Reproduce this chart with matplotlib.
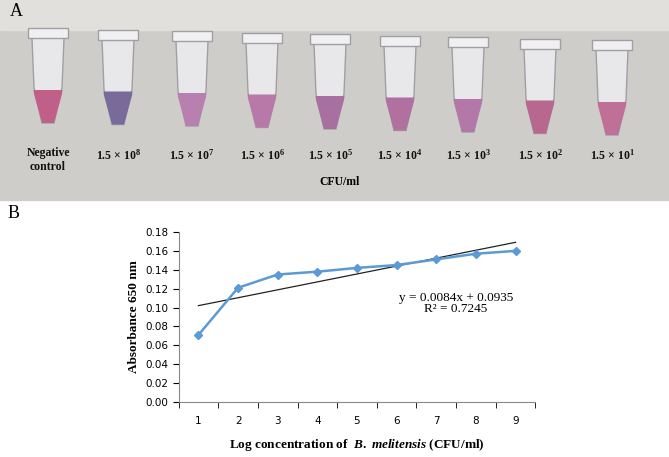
import numpy as np
import matplotlib.pyplot as plt
from matplotlib.patches import Polygon, Rectangle

labels = ["Negative\ncontrol", r"1.5 × 10$^{8}$", r"1.5 × 10$^{7}$", r"1.5 × 10$^{6}$", r"1.5 × 10$^{5}$",
          r"1.5 × 10$^{4}$", r"1.5 × 10$^{3}$", r"1.5 × 10$^{2}$", r"1.5 × 10$^{1}$"]
liquid = ["#c0608a", "#7a6a9a", "#b880b0", "#b878a8", "#a870a0", "#b070a0", "#b478a8", "#b8688e", "#c07096"]
log_conc = [1, 2, 3, 4, 5, 6, 7, 8, 9]
absorb = [0.071, 0.121, 0.135, 0.138, 0.142, 0.145, 0.151, 0.157, 0.160]

W, H = 669, 457
plt.rcParams['font.family'] = ['Liberation Serif', 'DejaVu Serif']
plt.rcParams['mathtext.fontset'] = 'custom'
plt.rcParams['mathtext.rm'] = 'Liberation Serif:bold'
plt.rcParams['mathtext.it'] = 'Liberation Serif:italic:bold'
plt.rcParams['mathtext.bf'] = 'Liberation Serif:bold'
fig = plt.figure(figsize=(W/100, H/100), dpi=100)

# Panel A (photo-like sketch)
axA = fig.add_axes([0, 0, 1, 1])
axA.set_xlim(0, W); axA.set_ylim(H, 0); axA.axis('off')
axA.add_patch(Rectangle((0, 0), W, 200, color="#cfcdca", zorder=0))
axA.add_patch(Rectangle((0, 0), W, 30, color="#e2e0dc", zorder=0))
xs = [48, 118, 192, 262, 330, 400, 468, 540, 612]
for i, (x, lab, c) in enumerate(zip(xs, labels, liquid)):
    top = 28 + i * 1.5
    body = Polygon([(x-16, top+10), (x+16, top+10), (x+14, top+60), (x+6, top+95), (x-6, top+95), (x-14, top+60)],
                   closed=True, fc="#e8e8ea", ec="#a0a0a4", lw=1, zorder=1)
    axA.add_patch(body)
    axA.add_patch(Rectangle((x-20, top), 40, 10, fc="#f0f0f2", ec="#a0a0a4", lw=1, zorder=2))
    axA.add_patch(Polygon([(x-14.5, top+62), (x+14.5, top+62), (x+14, top+66), (x+6, top+95), (x-6, top+95), (x-14, top+66)],
                          closed=True, fc=c, ec="none", zorder=2))
    axA.text(x, 155 if i else 160, lab, ha='center', va='center', fontsize=8.5, fontweight='bold', color='#111111')
axA.text(340, 182, "CFU/ml", ha='center', va='center', fontsize=8.5, fontweight='bold')
axA.text(10, 12, "A", fontsize=13, va='center')
axA.text(8, 214, "B", fontsize=13, va='center')

# Panel B
x0, x1, ytop, ybot = 192/W, 522/W, 1 - 232/H, 1 - 402/H
ax = fig.add_axes([x0 - 0.02, ybot, x1 - x0 + 0.04, ytop - ybot])
ax.plot(log_conc, absorb, color="#5b9bd5", lw=1.8, marker='D', ms=4.5, zorder=3)
slope, inter = np.polyfit(log_conc, absorb, 1)
xx = np.array([log_conc[0], log_conc[-1]])
ax.plot(xx, slope*xx + inter, color='#222222', lw=0.9, zorder=2)
ax.set_xlim(0.5, 9.5); ax.set_ylim(0, 0.18)
ax.set_yticks(np.arange(0, 0.181, 0.02))
ax.set_yticklabels([f"{v:.2f}" for v in np.arange(0, 0.181, 0.02)], fontfamily='DejaVu Sans', fontsize=7.5)
ax.set_xticks(log_conc)
ax.set_xticklabels([str(v) for v in log_conc], fontfamily='DejaVu Sans', fontsize=7.5)
ax.set_xticks(np.arange(0.5, 9.6, 1), minor=True)
ax.tick_params(axis='x', which='major', length=0, pad=10)
ax.tick_params(axis='x', which='minor', length=4)
ax.tick_params(axis='y', length=4)
for s in ['top', 'right']:
    ax.spines[s].set_visible(False)
ax.spines['left'].set_color('#888888'); ax.spines['bottom'].set_color('#888888')
ax.text(7.5, 0.107, "y = 0.0084x + 0.0935", ha='center', fontsize=9.5)
ax.text(7.5, 0.0955, "R² = 0.7245", ha='center', fontsize=9.5)
ax.set_ylabel("Absorbance 650 nm", fontsize=9.5, fontweight='bold')
ax.set_xlabel("Log concentration of  $\\it{B.\\ melitensis}$ (CFU/ml)", fontsize=9.5, fontweight='bold', labelpad=8)

fig.savefig("out.png", dpi=100)
